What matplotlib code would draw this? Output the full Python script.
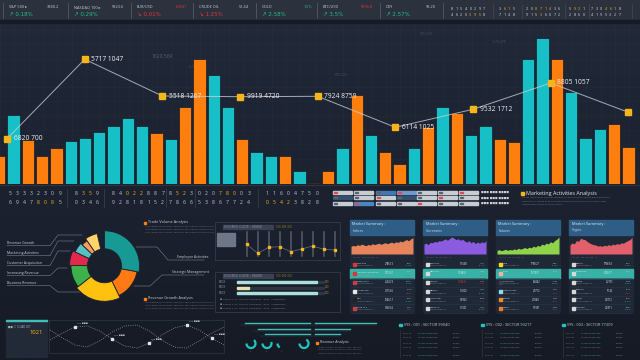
import numpy as np
import matplotlib
matplotlib.use("Agg")
import matplotlib.pyplot as plt
from matplotlib.patches import Rectangle, Arc
from matplotlib.colors import LinearSegmentedColormap

plt.rcParams['font.family'] = ['Open Sans', 'DejaVu Sans']

# ---------------- data ----------------
bar_index = list(range(-1, 44))
bar_values = [28, 69, 44, 28, 36, 43, 46, 52, 58, 66, 58, 51, 45, 77, 125, 109, 77, 45, 32, 28, 28, 13, 1,
              13, 36, 89, 49, 32, 20, 36, 57, 77, 71, 49, 58, 45, 42, 125, 146, 125, 92, 46, 55, 60, 37]
bar_kind = list("OTOOOTTTTTTOTOOTTOTTOTOOTOTOOTOTOTTOOTTOTTTOO")

line_values = [45.3, 124.7, 88, 87.3, 87.7, 56.7, 74.7, 101, 71.7]
line_labels = ["6820 700", "5717 1047", "5518 1267", "9919 4720", "7924 8759",
               "6114 1025", "9532 1712", "8805 1057", ""]

ticker_names = ["S&P 500 ▸", "NASDAQ 100 ▸", "EUR/USD", "CRUDE OIL", "GOLD", "BTC/USD", "DXY"]
ticker_values = ["3380.2", "9823.6", "1.0841", "51.44", "1.5%", "9736.8", "98.20"]
ticker_changes = ["0.18%", "0.29%", "0.01%", "1.25%", "2.58%", "3.5%", "2.57%"]
ticker_up = [True, True, False, False, True, True, True]
ticker_value_up = [None, None, False, None, True, False, None]

digit_row1 = ["53332309", "8359", "84022887", "8523", "02078003", "11604750"]
digit_row2 = ["69478085", "0346", "92818152", "7866", "53867724", "05423828"]
digit_hl1 = ["00000000", "0110", "00111000", "0110", "00011100", "00000000"]
digit_hl2 = ["00001110", "0000", "00000000", "0000", "00000000", "11110000"]

top_digits1 = ["81540297", "3615", "20871436", "5921", "7304618"]
top_digits2 = ["46203958", "7148", "91536072", "2860", "4195327"]
top_hl1 = ["00000000", "0110", "00111100", "0110", "0001100"]
top_hl2 = ["00001110", "0000", "00010000", "0000", "0000000"]

donut_labels = ["Teal", "Orange", "Yellow", "Green", "Red", "Cyan", "Salmon", "Light yellow", "gap"]
donut_values = [101, 54, 78, 39, 25, 18, 12, 22, 13]
donut_colors = ["#179a93", "#ff7a12", "#ffc10f", "#3db24b", "#e2294b", "#54c3c1", "#f79a5c", "#ffd56a", "none"]
donut_radii = [35, 33, 35.5, 33.5, 35, 32.5, 30.5, 33, 30]
left_labels = ["Revenue Growth", "Marketing Activities", "Customer Acquisition", "Increasing Revenue", "Business Revenue"]
right_labels = ["Employee Activities", "Strategic Management"]

panel_titles = ["Indices", "Currencies", "Futures", "Crypto"]
panel_colors = ["#e8845c", "#8b5be0", "#8fd34b", "#e2606b"]
area_indices = [42, 48, 44, 52, 47, 55, 50, 46, 53, 49, 57, 52, 56, 60, 54, 58, 63, 57, 62, 66, 60, 68, 64, 72, 67, 75, 80, 73, 85, 90]
area_currencies = [55, 60, 52, 65, 62, 70, 66, 74, 72, 78, 84, 76, 86, 95, 88, 80, 85, 76, 82, 72, 66, 74, 62, 70, 58, 66, 60, 68, 62, 75]
area_futures = [20, 24, 18, 22, 26, 20, 25, 22, 28, 24, 32, 27, 31, 36, 30, 38, 34, 44, 38, 48, 43, 55, 50, 60, 56, 68, 62, 75, 82, 95]
area_crypto = [50, 62, 56, 75, 70, 88, 82, 80, 70, 62, 56, 52, 50, 44, 47, 42, 49, 45, 52, 47, 55, 51, 58, 54, 62, 60, 68, 74, 80, 92]
row_names = [["S&P 500", "Nasdaq Composite", "Dow Jones", "Nikkei 225", "DAX", "FTSE 100"],
             ["EUR/USD", "GBP/USD", "USD/JPY", "GBP/JPY", "AUD/USD", "USD/CAD"],
             ["Gold", "Silver", "Crude Oil", "Natural Gas", "Copper", "Wheat"],
             ["Bitcoin", "Ethereum", "Ripple", "Litecoin", "Stellar", "Cardano"]]
row_values = [["2786.13", "7413.51", "25520.9", "22153.6", "12461.7", "7360.62"],
              ["1.1638", "1.29830", "1.08530", "1.3920", "0.6862", "1.3321"],
              ["1798.27", "18.7531", "63.842", "2.9712", "2.7840", "5.9931"],
              ["9738.53", "3226.17", "0.2731", "57.42", "0.0712", "0.0911"]]
row_changes = [["+0.45%", "-0.21%", "+0.12%", "-0.63%", "+0.33%", "-0.18%"],
               ["+0.11%", "-0.07%", "-0.42%", "+0.28%", "-0.31%", "+0.05%"],
               ["+0.52%", "+0.19%", "+0.88%", "-0.47%", "-1.02%", "-0.35%"],
               ["+3.50%", "+1.23%", "+0.84%", "-0.52%", "+0.91%", "+2.01%"]]
row_icons = [["#d8363e", "#d8363e", "#c83a44", "#e8e8e8", "#222222", "#c8404a"],
             ["#d8d8d8", "#d8d8d8", "#d8d8d8", "#d8d8d8", "#d8d8d8", "#d8d8d8"],
             ["#ffd51e", "#f0b0a8", "#3a3f48", "#8ed8f0", "#f08a24", "#f07a20"],
             ["#d8d8d8", "#d8d8d8", "#d8d8d8", "#d8d8d8", "#d8d8d8", "#d8d8d8"]]

slider_values = [244.3, 253.3, 247.3, 246.7, 251.7, 249.0, 246.0, 249.3, 250.0]
progress_values = [0.92, 0.14, 0.92]
wave_a = [340, 333, 327, 326, 331, 339, 346, 348, 343, 335, 328, 325, 330, 338, 345]
wave_b = [330, 338, 345, 347, 341, 332, 326, 325, 331, 340, 347, 348, 341, 333, 327]
sys_titles = ["SYS : 001 : SECTOR 99040", "SYS : 002 : SECTOR 93217", "SYS : 003 : SECTOR 77309"]

TEAL = "#17c0c6"
ORANGE = "#ff7f0e"
YEL = "#f7b718"
W, H = 640, 360

fig = plt.figure(figsize=(6.4, 3.6), dpi=100)
fig.patch.set_facecolor("#1b2130")


def R(x0, y0, x1, y1):
    return [x0 / W, 1 - y1 / H, (x1 - x0) / W, (y1 - y0) / H]


bg = fig.add_axes([0, 0, 1, 1])
bg.set_xlim(0, W)
bg.set_ylim(H, 0)
bg.axis("off")
cmap = LinearSegmentedColormap.from_list("bg", ["#232a39", "#1e2534", "#1c2230", "#191f2b", "#151a24"])
bg.imshow(np.linspace(0, 1, 256).reshape(-1, 1), extent=[0, W, H, 0], cmap=cmap, aspect="auto", zorder=0)

# faint grid in main area
for gx in np.arange(0, W, 14.3):
    bg.plot([gx, gx], [22, 184], color="#ffffff", alpha=0.025, lw=0.5, zorder=1)
for gy in np.arange(30, 184, 14.3):
    bg.plot([0, W], [gy, gy], color="#ffffff", alpha=0.025, lw=0.5, zorder=1)

# ---------------- ticker bar ----------------
bg.add_patch(Rectangle((0, 0), W, 20, color="#2b313d", zorder=1))
bg.add_patch(Rectangle((0, 20), W, 2.5, color="#161b25", zorder=1))
div_x = [3.3, 67.7, 130.7, 192.7, 256, 316.7, 380, 442.7]
for dx in div_x:
    bg.plot([dx, dx], [3, 18], color="#5a6170", lw=0.5, zorder=2)
for i, name in enumerate(ticker_names):
    x0 = div_x[i]
    bg.text(x0 + 6, 7.5, name, color="#c9ccd2", fontsize=2.8, va="center", zorder=3)
    vcol = "#c9ccd2" if ticker_value_up[i] is None else ("#1fbf8a" if ticker_value_up[i] else "#e8323c")
    bg.text(x0 + 56, 7.5, ticker_values[i], color=vcol, fontsize=2.8, va="center", ha="right", zorder=3)
    ccol = "#1fbf8a" if ticker_up[i] else "#e8323c"
    arrow = "↗" if ticker_up[i] else "↘"
    bg.text(x0 + 6, 15, arrow + " " + ticker_changes[i], color=ccol, fontsize=4.0, va="center", zorder=3,
            family=["DejaVu Sans"])
tx = [452, 500, 527, 570, 592]
for gi in range(len(top_digits1)):
    for k, ch in enumerate(top_digits1[gi]):
        c = YEL if top_hl1[gi][k] == "1" else "#d8dbe0"
        bg.text(tx[gi] + k * 4.6, 8.5, ch, color=c, fontsize=2.6, ha="center", va="center", zorder=3)
    for k, ch in enumerate(top_digits2[gi]):
        c = YEL if top_hl2[gi][k] == "1" else "#d8dbe0"
        bg.text(tx[gi] + k * 4.6, 15, ch, color=c, fontsize=2.6, ha="center", va="center", zorder=3)
for sx in [493, 522, 565, 589, 632]:
    bg.plot([sx, sx], [4, 18], color="#4a5160", lw=0.4, zorder=2)

# faint labels in chart
bg.text(152, 58, "1620.569", color="#5b6374", fontsize=3.6, zorder=2)
bg.text(188, 68, "1520.4", color="#454d5d", fontsize=2.5, zorder=2)
bg.text(420, 35, "920.478", color="#454d5d", fontsize=2.5, zorder=2)
bg.text(492, 43, "1620.478", color="#454d5d", fontsize=2.5, zorder=2)
bg.text(335, 76, "870.420", color="#454d5d", fontsize=2.5, zorder=2)

# ---------------- main bar chart ----------------
ax = fig.add_axes(R(0, 30, W, 184))
ax.patch.set_alpha(0)
ax.set_xlim(-13.5 / 14.3, (W - 13.5) / 14.3)
ax.set_ylim(0, 154)
ax.axis("off")
cols = [TEAL if k == "T" else ORANGE for k in bar_kind]
ax.bar(bar_index, bar_values, width=0.86, color=cols, edgecolor="#151b27", linewidth=0.5, zorder=2)
line_pos = np.linspace(-0.45, 43.0, len(line_values))
ax.plot(line_pos, line_values, color="#c9ccd4", lw=0.7, alpha=0.8, zorder=3)
ax.plot(line_pos, line_values, ls="none", marker="s", ms=4, color="#f7b51c", zorder=4)
for xp, yv, lab in zip(line_pos, line_values, line_labels):
    if lab:
        ax.text(xp + 0.45, yv, lab, color="#f2f2f2", fontsize=4.8, va="center", ha="left", zorder=5)

bg.plot([0, W], [185, 185], color="#2c3444", lw=0.8, zorder=1)

# ---------------- digit rows ----------------
gx0 = [10, 76, 113, 170, 199, 267]
for gi in range(len(digit_row1)):
    for k, ch in enumerate(digit_row1[gi]):
        c = YEL if digit_hl1[gi][k] == "1" else "#c8ccd3"
        bg.text(gx0[gi] + k * 7.1, 193.5, ch, color=c, fontsize=3.6, ha="center", va="center", zorder=3)
    for k, ch in enumerate(digit_row2[gi]):
        c = YEL if digit_hl2[gi][k] == "1" else "#c8ccd3"
        bg.text(gx0[gi] + k * 7.1, 202.5, ch, color=c, fontsize=3.6, ha="center", va="center", zorder=3)
for sx in [67, 104, 166, 195, 258]:
    bg.plot([sx, sx], [189, 207], color="#3a4252", lw=0.5, zorder=2)

# buttons grid
btn_x = [333, 354, 376, 397, 417, 438, 459]
btn_y = [190.5, 196, 201.5]
blue_cells = {(0, 2): "#3d79b8", (0, 3): "#6d9ccc", (1, 0): "#35506e", (1, 3): "#35506e", (2, 1): "#4b86c2"}
for r, by in enumerate(btn_y):
    for c, bx in enumerate(btn_x):
        col = blue_cells.get((r, c), "#c7cbd2")
        bg.add_patch(Rectangle((bx, by), 19, 3.2, color=col, zorder=3))
        bg.add_patch(Rectangle((bx + 1, by + 1), 3, 1.2, color="#e8474f" if (r + c) % 3 == 0 else "#5b6270", zorder=4))
    bg.text(481, by + 1.7, "■■■ ■■■ ■■■■", color="#cfd3d9", fontsize=2.0, va="center", zorder=3,
            family=["DejaVu Sans"])
bg.add_patch(Rectangle((520.5, 191.5), 3, 3, color=YEL, zorder=3))
bg.text(526, 193.2, "Marketing Activities Analysis", color="#e4e6ea", fontsize=3.9, va="center", zorder=3)
for k, ln in enumerate(["Lorem ipsum dolor sit amet consectetur adipiscing elit sed do eiusmod tempor",
                        "incididunt ut labore et dolore magna aliqua ut enim ad minim veniam quis",
                        "nostrud exercitation ullamco laboris"]):
    bg.text(522, 198 + k * 3.2, ln, color="#7c8494", fontsize=1.7, va="center", zorder=3)

# ---------------- donut ----------------
cx, cy = 104.5, 265.8
axd = fig.add_axes(R(cx - 40, cy - 40, cx + 40, cy + 40))
axd.patch.set_alpha(0)
wedges, _ = axd.pie(donut_values, colors=[c if c != "none" else "#000000" for c in donut_colors],
                    startangle=90, counterclock=False, radius=35,
                    wedgeprops=dict(width=18, edgecolor="#1b2130", linewidth=0.6))
for w, rr, c in zip(wedges, donut_radii, donut_colors):
    w.set_radius(rr)
    w.set_width(rr - 17)
    if c == "none":
        w.set_visible(False)
axd.set_xlim(-40, 40)
axd.set_ylim(-40, 40)
axd.set_aspect("equal")
axd.axis("off")

ly = [242.7, 252.7, 262.7, 272.7, 282.7]
targets = [(82, 235), (74, 241), (70, 251), (67, 268), (80, 292)]
for lab, y, (tx_, ty_) in zip(left_labels, ly, targets):
    bg.text(7, y, lab, color="#cfd2d8", fontsize=2.5, va="center", zorder=3)
    bg.plot([7, 50, 58, tx_], [y + 3, y + 3, ty_, ty_], color="#7a8191", lw=0.4, zorder=2)
bg.text(177, 257, right_labels[0], color="#cfd2d8", fontsize=2.5, va="center", zorder=3)
bg.plot([136, 157, 168, 204], [247, 247, 260, 260], color="#7a8191", lw=0.4, zorder=2)
bg.text(172, 272, right_labels[1], color="#cfd2d8", fontsize=2.5, va="center", zorder=3)
bg.plot([134, 150, 162, 204], [286, 286, 275, 275], color="#7a8191", lw=0.4, zorder=2)
for ty, title in [(222.5, "Trade Volume Analysis"), (298.5, "Revenue Growth Analysis")]:
    bg.add_patch(Rectangle((143.5, ty - 1), 2, 2, color=ORANGE, zorder=3))
    bg.text(147.5, ty, title, color="#cfd2d8", fontsize=2.7, va="center", zorder=3)
    for k in range(3):
        bg.text(145, ty + 4 + k * 3, "Lorem ipsum dolor sit amet consectetur adipiscing elit sed do eiusmod",
                color="#6f7787", fontsize=1.5, va="center", zorder=3)

# ---------------- source code panels ----------------
for (y0, y1) in [(222, 260), (272, 312)]:
    bg.add_patch(Rectangle((215, y0), 125, y1 - y0, fill=False, ec="#394152", lw=0.5, zorder=2))
for y in [224.5, 273.5]:
    bg.add_patch(Rectangle((222.5, y), 50, 4.5, color="#3a4150", zorder=3))
    bg.text(224, y + 2.3, "SOURCE CODE : 00000", color="#8d95a4", fontsize=2.6, va="center", zorder=4)
    bg.text(276, y + 2.3, "000  000  000", color="#b08a2a", fontsize=1.8, va="center", zorder=4)
for k in range(4):
    bg.add_patch(Rectangle((217, 233 + k * 3.4), 18, 2.4, color="#6e7788", zorder=3))
slider_x = np.linspace(246.7, 334.7, len(slider_values))
for sx, sv in zip(slider_x, slider_values):
    bg.plot([sx, sx], [232, 256], color="#4f5767", lw=1.2, zorder=3)
bg.plot(slider_x, slider_values, color="#6a7283", lw=0.5, zorder=3)
bg.plot(slider_x, slider_values, ls="none", marker="s", ms=1.8, color=YEL, zorder=4)
for k, (py, pv) in enumerate(zip([282, 287.5, 292.5], progress_values)):
    bg.text(219, py, "MODE", color="#8a92a0", fontsize=1.8, va="center", zorder=3)
    bg.add_patch(Rectangle((236.5, py - 1), 87, 2, color="#2d3442", zorder=3))
    bg.add_patch(Rectangle((236.5, py - 1), 87 * pv, 2, color="#a9e0dc" if k != 1 else "#e6dfae", zorder=4))
    bg.text(325, py, "000", color="#b08a2a", fontsize=1.8, va="center", zorder=3)
for k in range(3):
    bg.text(220, 299.5 + k * 4.5, "■ 100000 1 0%  GATE 01 PROGRESS   0000   COMPLETED",
            color="#7d8594", fontsize=1.6, va="center", zorder=3, family=["DejaVu Sans"])

# ---------------- market summary panels ----------------
panel_x = [350, 423, 496, 569]
areas = [area_indices, area_currencies, area_futures, area_crypto]
row_tops = [260, 269, 278, 287, 295.5, 304]
for p, px in enumerate(panel_x):
    bg.add_patch(Rectangle((px, 220), 64, 92, color="#1f2836", zorder=2))
    bg.add_patch(Rectangle((px, 220), 64, 14.5, color="#2e5e86", zorder=3))
    bg.text(px + 2.5, 224.3, "Market Summary :", color="#e8edf2", fontsize=2.8, va="center", zorder=4)
    bg.text(px + 2.5, 230.5, panel_titles[p], color="#d6dde6", fontsize=2.4, va="center", zorder=4)
    axa = fig.add_axes(R(px + 1, 236, px + 63, 254))
    axa.patch.set_alpha(0)
    vals = areas[p]
    axa.fill_between(range(len(vals)), vals, color=panel_colors[p], lw=0)
    axa.set_xlim(0, len(vals) - 1)
    axa.set_ylim(0, 100)
    axa.axis("off")
    bg.text(px + 3, 257, "1D   5D   1M   3M   6M   1Y", color="#77808f", fontsize=1.5, va="center", zorder=4)
    for r, rt in enumerate(row_tops):
        if r == 1:
            bg.add_patch(Rectangle((px, rt), 64, 8.8, color="#38b2a6", zorder=3))
        bg.plot([px + 1, px + 63], [rt + 8.8, rt + 8.8], color="#2c3646", lw=0.4, zorder=3)
        bg.add_patch(Rectangle((px + 2.5, rt + 2.5), 3, 3, color=row_icons[p][r], zorder=4))
        bg.text(px + 7, rt + 3, row_names[p][r], color="#e8ecf0", fontsize=1.7, va="center", zorder=4)
        bg.text(px + 7, rt + 6, "Lorem ipsum dolor sit", color="#9aa3b0", fontsize=1.2, va="center", zorder=4)
        neg = row_changes[p][r].startswith("-")
        bg.text(px + 44, rt + 4.4, row_values[p][r], color="#e8ecf0" if r != 2 or p != 1 else "#e8323c",
                fontsize=1.8, va="center", ha="right", zorder=4)
        bg.text(px + 62, rt + 3, row_values[p][r][:5], color="#c9ced6", fontsize=1.4, va="center", ha="right", zorder=4)
        bg.text(px + 62, rt + 6, row_changes[p][r], color="#e8323c" if neg else "#2fc48d",
                fontsize=1.4, va="center", ha="right", zorder=4)

# ---------------- bottom strip ----------------
bg.add_patch(Rectangle((6, 320), 41, 37, color="#222a37", zorder=2))
bg.add_patch(Rectangle((6, 320), 41, 1.2, color="#3ec0b9", zorder=3))
bg.text(8, 327, "■■  C | LOAD 007", color="#aab2be", fontsize=1.8, va="center", zorder=3, family=["DejaVu Sans"])
bg.text(36, 333, "1021", color=YEL, fontsize=4.2, va="center", ha="center", zorder=3)
bg.add_patch(Rectangle((49, 320), 175, 33, fill=False, ec="#2f3746", lw=0.5, zorder=2))
wx = np.linspace(50, 224, len(wave_a))
bg.plot(wx, wave_a, color="#c8d0d8", lw=0.6, ls=":", alpha=0.7, zorder=3)
bg.plot(wx, wave_b, color="#c8d0d8", lw=0.6, ls=":", alpha=0.7, zorder=3)
for k in [2, 5, 8, 11, 13]:
    bg.plot(wx[k], wave_a[k], marker="s", ms=1.8, color="#dfe5ea", zorder=4)
    bg.text(wx[k] + 2, wave_a[k] - 3, "000 ■■■", color="#aab2be", fontsize=1.5, zorder=4, family=["DejaVu Sans"])

for k, (bx0, bx1, by) in enumerate([(245, 310, 323), (258, 310, 329), (265, 310, 334),
                                     (315, 376, 323), (315, 350, 329), (315, 340, 334)]):
    bg.plot([bx0, bx1], [by, by], color="#3ec0b9", lw=1.0, zorder=3)
    bg.plot([bx0 - 5, bx1], [by + 1.8, by + 1.8], color="#3a4252", lw=0.3, zorder=3)
for gx, ext in zip([251, 267, 282, 304], [230, 200, 60, 240]):
    bg.add_patch(Arc((gx, 343.5), 9, 9, theta1=180 - ext, theta2=180, color="#21c5c0", lw=1.6, zorder=3))
    bg.text(gx, 352, "0", color="#6f7787", fontsize=1.5, ha="center", zorder=3)
bg.add_patch(Rectangle((316, 341.5), 2, 2, color=ORANGE, zorder=3))
bg.text(319.5, 342.5, "Revenue Analysis", color="#cfd2d8", fontsize=2.6, va="center", zorder=3)
for k in range(3):
    bg.text(318, 347 + k * 3, "Lorem ipsum dolor sit amet consectetur adipiscing", color="#6f7787",
            fontsize=1.4, va="center", zorder=3)

for k, (sx, title) in enumerate(zip([399, 481, 562], sys_titles)):
    bg.add_patch(Rectangle((sx, 323.5), 2.5, 2.5, color="#21c5c0", zorder=3))
    bg.text(sx + 5, 325, title, color="#c3cbd4", fontsize=2.8, va="center", zorder=3)
    bg.plot([sx + 1, sx + 1], [330, 357], color="#2f3746", lw=0.5, zorder=2)
    for rr, ry in enumerate([333, 337, 343.5, 347.5, 355]):
        bg.text(sx + 4, ry, "0001 07", color="#7d8696", fontsize=1.6, va="center", zorder=3)
        bg.text(sx + 19, ry, "00000000 0000000", color="#3aaeb0" if rr % 2 == 0 else "#7d8696",
                fontsize=1.6, va="center", zorder=3)
        bg.text(sx + 54, ry, "000000", color="#7d8696", fontsize=1.6, va="center", zorder=3)

fig.savefig("out.png", dpi=100, facecolor=fig.get_facecolor())
